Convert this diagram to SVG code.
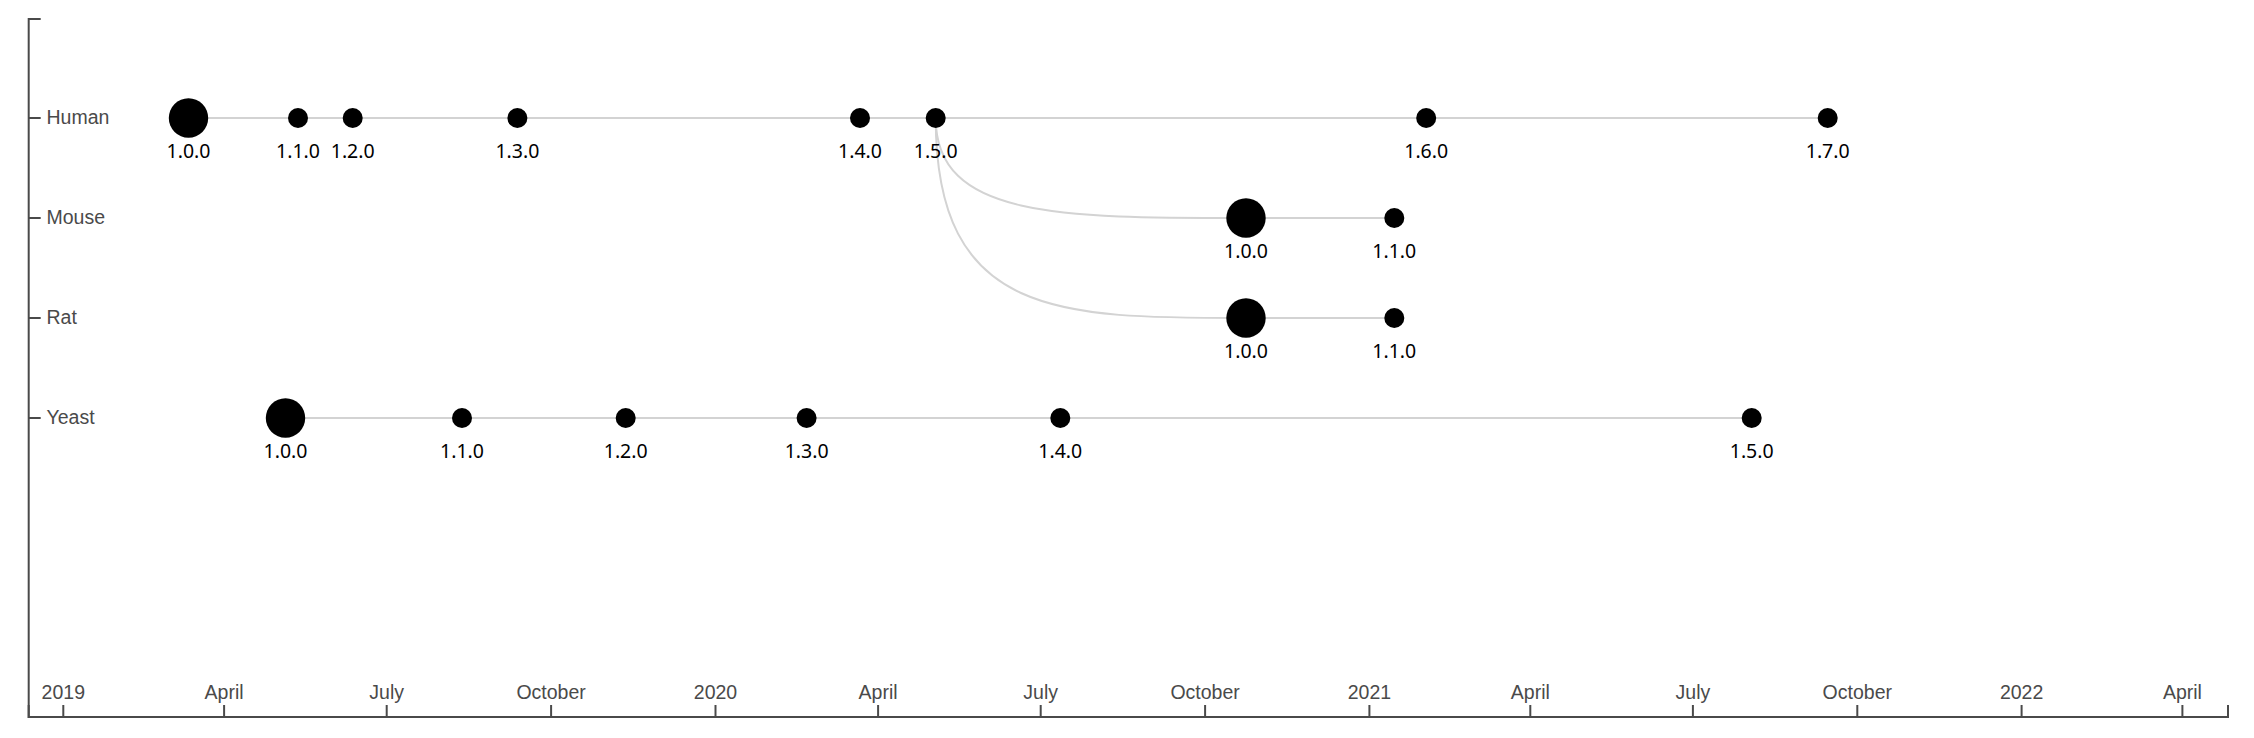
<svg xmlns="http://www.w3.org/2000/svg" width="2254" height="738" viewBox="0 0 2254 738">
<style>
.axis path, .axis line { fill: none; stroke: #4a4a4a; stroke-width: 2; }
.axis text { font-family: "Liberation Sans", Arial, sans-serif; font-size: 19.5px; fill: #4a4a4a; }
.xt { text-anchor: middle; }
.link { fill: none; stroke: #d3d3d3; stroke-width: 2; }
.dot { fill: #000; }
.lbl { font-family: "Noto Sans", "Open Sans", sans-serif; font-size: 19.5px; fill: #000; text-anchor: middle; }
</style>
<rect width="2254" height="738" fill="#fff"/>

<g id="y-axis" class="axis">
  <path d="M40.7,19 H28.7 V717 H40.7"/>
  <line x1="28.7" y1="118" x2="40.7" y2="118"/>
  <line x1="28.7" y1="218" x2="40.7" y2="218"/>
  <line x1="28.7" y1="318" x2="40.7" y2="318"/>
  <line x1="28.7" y1="418" x2="40.7" y2="418"/>
  <text x="46.5" y="124.4">Human</text>
  <text x="46.5" y="224.4">Mouse</text>
  <text x="46.5" y="324.4">Rat</text>
  <text x="46.5" y="424.4">Yeast</text>
</g>

<g id="x-axis" class="axis">
  <path d="M28.7,705 V717 H2228 V705"/>
  <line x1="63.3" y1="717" x2="63.3" y2="705"/>
  <line x1="224.1" y1="717" x2="224.1" y2="705"/>
  <line x1="386.7" y1="717" x2="386.7" y2="705"/>
  <line x1="551.1" y1="717" x2="551.1" y2="705"/>
  <line x1="715.5" y1="717" x2="715.5" y2="705"/>
  <line x1="878.1" y1="717" x2="878.1" y2="705"/>
  <line x1="1040.7" y1="717" x2="1040.7" y2="705"/>
  <line x1="1205.1" y1="717" x2="1205.1" y2="705"/>
  <line x1="1369.4" y1="717" x2="1369.4" y2="705"/>
  <line x1="1530.3" y1="717" x2="1530.3" y2="705"/>
  <line x1="1692.9" y1="717" x2="1692.9" y2="705"/>
  <line x1="1857.3" y1="717" x2="1857.3" y2="705"/>
  <line x1="2021.6" y1="717" x2="2021.6" y2="705"/>
  <line x1="2182.4" y1="717" x2="2182.4" y2="705"/>
  <text class="xt" x="63.3" y="699">2019</text>
  <text class="xt" x="224.1" y="699">April</text>
  <text class="xt" x="386.7" y="699">July</text>
  <text class="xt" x="551.1" y="699">October</text>
  <text class="xt" x="715.5" y="699">2020</text>
  <text class="xt" x="878.1" y="699">April</text>
  <text class="xt" x="1040.7" y="699">July</text>
  <text class="xt" x="1205.1" y="699">October</text>
  <text class="xt" x="1369.4" y="699">2021</text>
  <text class="xt" x="1530.3" y="699">April</text>
  <text class="xt" x="1692.9" y="699">July</text>
  <text class="xt" x="1857.3" y="699">October</text>
  <text class="xt" x="2021.6" y="699">2022</text>
  <text class="xt" x="2182.4" y="699">April</text>
</g>

<g id="connectors">
  <line class="link" x1="188.5" y1="118" x2="1827.7" y2="118"/>
  <line class="link" x1="1246" y1="218" x2="1394.3" y2="218"/>
  <line class="link" x1="1246" y1="318" x2="1394.3" y2="318"/>
  <line class="link" x1="285.5" y1="418" x2="1751.7" y2="418"/>
  <path class="link" d="M935.7,118 C935.7,218 1059.8,218 1246,218"/>
  <path class="link" d="M935.7,118 C935.7,318 1059.8,318 1246,318"/>
</g>

<g id="human-1.0.0"><circle class="dot" cx="188.5" cy="118" r="19.7"/><text class="lbl" x="188.5" y="158">1.0.0</text></g>
<g id="human-1.1.0"><circle class="dot" cx="298" cy="118" r="10"/><text class="lbl" x="298" y="158">1.1.0</text></g>
<g id="human-1.2.0"><circle class="dot" cx="352.7" cy="118" r="10"/><text class="lbl" x="352.7" y="158">1.2.0</text></g>
<g id="human-1.3.0"><circle class="dot" cx="517.4" cy="118" r="10"/><text class="lbl" x="517.4" y="158">1.3.0</text></g>
<g id="human-1.4.0"><circle class="dot" cx="860" cy="118" r="10"/><text class="lbl" x="860" y="158">1.4.0</text></g>
<g id="human-1.5.0"><circle class="dot" cx="935.7" cy="118" r="10"/><text class="lbl" x="935.7" y="158">1.5.0</text></g>
<g id="human-1.6.0"><circle class="dot" cx="1426.2" cy="118" r="10"/><text class="lbl" x="1426.2" y="158">1.6.0</text></g>
<g id="human-1.7.0"><circle class="dot" cx="1827.7" cy="118" r="10"/><text class="lbl" x="1827.7" y="158">1.7.0</text></g>

<g id="mouse-1.0.0"><circle class="dot" cx="1246" cy="218" r="19.7"/><text class="lbl" x="1246" y="258">1.0.0</text></g>
<g id="mouse-1.1.0"><circle class="dot" cx="1394.3" cy="218" r="10"/><text class="lbl" x="1394.3" y="258">1.1.0</text></g>

<g id="rat-1.0.0"><circle class="dot" cx="1246" cy="318" r="19.7"/><text class="lbl" x="1246" y="358">1.0.0</text></g>
<g id="rat-1.1.0"><circle class="dot" cx="1394.3" cy="318" r="10"/><text class="lbl" x="1394.3" y="358">1.1.0</text></g>

<g id="yeast-1.0.0"><circle class="dot" cx="285.5" cy="418" r="19.7"/><text class="lbl" x="285.5" y="458">1.0.0</text></g>
<g id="yeast-1.1.0"><circle class="dot" cx="462" cy="418" r="10"/><text class="lbl" x="462" y="458">1.1.0</text></g>
<g id="yeast-1.2.0"><circle class="dot" cx="625.7" cy="418" r="10"/><text class="lbl" x="625.7" y="458">1.2.0</text></g>
<g id="yeast-1.3.0"><circle class="dot" cx="806.6" cy="418" r="10"/><text class="lbl" x="806.6" y="458">1.3.0</text></g>
<g id="yeast-1.4.0"><circle class="dot" cx="1060.3" cy="418" r="10"/><text class="lbl" x="1060.3" y="458">1.4.0</text></g>
<g id="yeast-1.5.0"><circle class="dot" cx="1751.7" cy="418" r="10"/><text class="lbl" x="1751.7" y="458">1.5.0</text></g>
</svg>
